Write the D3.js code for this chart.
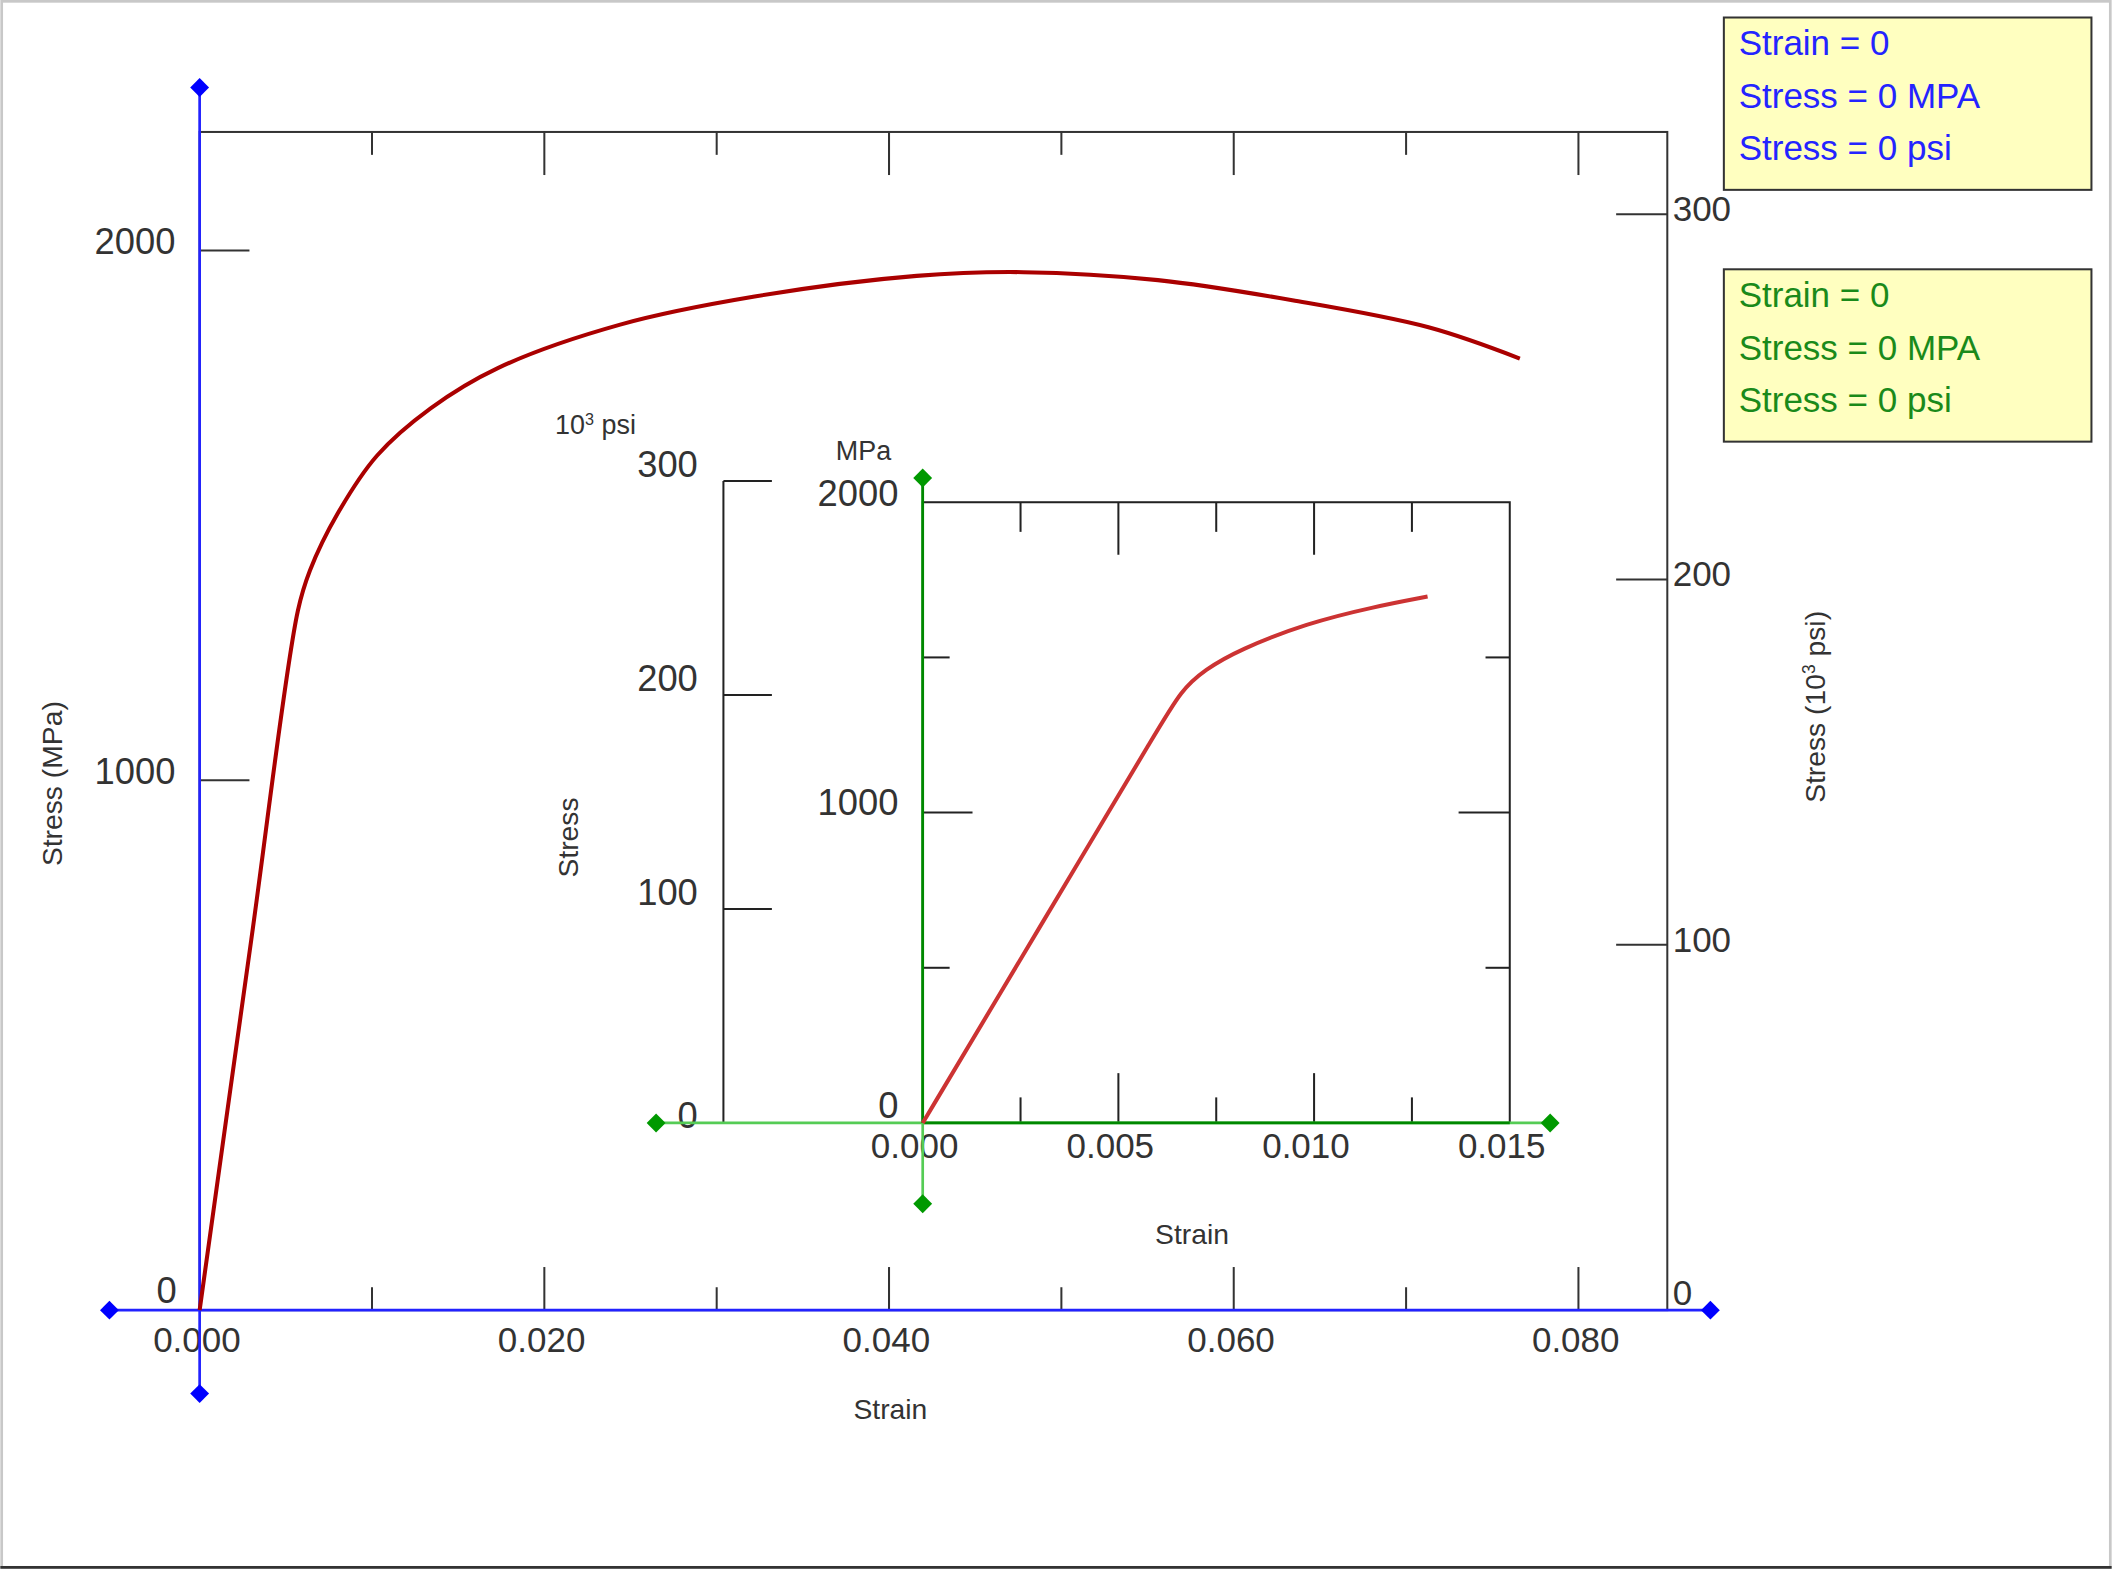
<!DOCTYPE html>
<html>
<head>
<meta charset="utf-8">
<script src="https://cdn.jsdelivr.net/npm/d3@7"></script>
<style>
  body { margin: 0; background: #fff; }
  text { font-family: "Liberation Sans", Arial, sans-serif; fill: #333; }
</style>
</head>
<body>
<svg id="chart"></svg>
<script>
// main curve: strain vs stress (MPa)
var mainStrain = [0, 0.0030, 0.0057, 0.0064, 0.0080, 0.0103, 0.0134, 0.0173, 0.0244, 0.0322, 0.0416, 0.0478, 0.0556, 0.0634, 0.0713, 0.0766];
var mainStress = [0, 700, 1320, 1396, 1503, 1613, 1702, 1778, 1860, 1913, 1952, 1959, 1944, 1906, 1855, 1796];
// inset curve (elastic region)
var insetStrain = [0, 0.00200, 0.00400, 0.00600, 0.00660, 0.00720, 0.00809, 0.00981, 0.01153, 0.0129];
var insetStress = [0, 422, 844, 1266, 1393, 1460, 1525, 1610, 1663, 1696];

var mainXTicks = [0.000, 0.020, 0.040, 0.060, 0.080];
var mainYTicks = [0, 1000, 2000];
var psiTicks = [0, 100, 200, 300];
var insetXTicks = [0.000, 0.005, 0.010, 0.015];
var insetYTicks = [0, 1000, 2000];
var readoutLines = ["Strain = 0", "Stress = 0 MPA", "Stress = 0 psi"];

var MPA_PER_KSI = 6.895;

var svg = d3.select("#chart")
    .attr("width", 2112)
    .attr("height", 1570)
    .attr("viewBox", "0 0 1568 1166");

svg.append("rect").attr("x", 1).attr("y", 1).attr("width", 1566).attr("height", 1163)
    .attr("fill", "#fff").attr("stroke", "#c8c8c8").attr("stroke-width", 2);
svg.append("line").attr("x1", 0).attr("x2", 1568).attr("y1", 1164).attr("y2", 1164)
    .attr("stroke", "#333").attr("stroke-width", 2);

function diamond(g, x, y, color) {
    var r = 7;
    g.append("path")
        .attr("d", "M0," + (-r) + "L" + r + ",0L0," + r + "L" + (-r) + ",0Z")
        .attr("transform", "translate(" + x + "," + y + ")")
        .attr("fill", color);
}

// ---------- main chart ----------
var x = d3.scaleLinear().domain([0, 0.08]).range([148, 1172]);
var y = d3.scaleLinear().domain([0, 2000]).range([973, 186]);
var yPsi = d3.scaleLinear().domain([0, 300]).range([y(0), y(300 * MPA_PER_KSI)]);
var boxL = 148, boxR = 1238, boxT = 98, boxB = 973;

var g = svg.append("g");
g.append("rect").attr("x", boxL).attr("y", boxT).attr("width", boxR - boxL).attr("height", boxB - boxT)
    .attr("fill", "none").attr("stroke", "#333").attr("stroke-width", 1.5);

var minorX = d3.range(1, 9).map(function (i) { return i * 0.01; });
minorX.forEach(function (v, i) {
    var major = (i % 2 == 1);
    g.append("line").attr("x1", x(v)).attr("x2", x(v)).attr("y1", boxT).attr("y2", boxT + (major ? 32 : 17))
        .attr("stroke", "#333").attr("stroke-width", 1.5);
    g.append("line").attr("x1", x(v)).attr("x2", x(v)).attr("y1", boxB).attr("y2", boxB - (major ? 32 : 17))
        .attr("stroke", "#333").attr("stroke-width", 1.5);
});
mainXTicks.forEach(function (v) {
    g.append("text").attr("x", x(v) - 2).attr("y", 1004).attr("text-anchor", "middle")
        .attr("font-size", 26).text(v.toFixed(3));
});
mainYTicks.forEach(function (v) {
    if (v > 0) {
        g.append("line").attr("x1", boxL).attr("x2", boxL + 37).attr("y1", y(v)).attr("y2", y(v))
            .attr("stroke", "#333").attr("stroke-width", 1.5);
    }
    g.append("text").attr("x", v == 0 ? 131 : 130).attr("y", y(v) + (v == 0 ? -5 : 3))
        .attr("text-anchor", "end").attr("font-size", 27).text(v);
});
psiTicks.forEach(function (v) {
    if (v > 0) {
        g.append("line").attr("x1", boxR - 38).attr("x2", boxR).attr("y1", yPsi(v)).attr("y2", yPsi(v))
            .attr("stroke", "#333").attr("stroke-width", 1.5);
    }
    g.append("text").attr("x", 1242).attr("y", yPsi(v) + (v == 0 ? -4 : 5))
        .attr("font-size", 26).text(v);
});

// blue axes
g.append("line").attr("x1", 81).attr("x2", 1270).attr("y1", boxB).attr("y2", boxB).attr("stroke", "#22f").attr("stroke-width", 2);
g.append("line").attr("x1", boxL).attr("x2", boxL).attr("y1", 65).attr("y2", 1035).attr("stroke", "#22f").attr("stroke-width", 2);
diamond(g, 81, boxB, "#00f"); diamond(g, 1270, boxB, "#00f");
diamond(g, boxL, 65, "#00f"); diamond(g, boxL, 1035, "#00f");

var line = d3.line().curve(d3.curveCatmullRom.alpha(0.5));
g.append("path")
    .attr("d", line(mainStrain.map(function (s, i) { return [x(s), y(mainStress[i])]; })))
    .attr("fill", "none").attr("stroke", "#a00").attr("stroke-width", 3);

g.append("text").attr("x", 661).attr("y", 1054).attr("text-anchor", "middle").attr("font-size", 21).attr("fill", "#111").text("Strain");
g.append("text").attr("transform", "translate(46,582) rotate(-90)").attr("text-anchor", "middle").attr("font-size", 21).text("Stress (MPa)");
g.append("text").attr("transform", "translate(1355,525) rotate(-90)").attr("text-anchor", "middle").attr("font-size", 21)
    .html("Stress (10<tspan baseline-shift='super' font-size='13'>3</tspan> psi)");

// ---------- inset ----------
var ix = d3.scaleLinear().domain([0, 0.015]).range([685, 1121]);
var iy = d3.scaleLinear().domain([0, 2000]).range([834, 373]);
var iyPsi = d3.scaleLinear().domain([0, 300]).range([iy(0), iy(300 * MPA_PER_KSI)]);
var iL = 685, iR = 1121, iT = 373, iB = 834;
var ig = svg.append("g");

ig.append("rect").attr("x", iL).attr("y", iT).attr("width", iR - iL).attr("height", iB - iT)
    .attr("fill", "none").attr("stroke", "#222").attr("stroke-width", 1.5);
[0.0025, 0.005, 0.0075, 0.010, 0.0125].forEach(function (v, i) {
    var major = (i % 2 == 1);
    ig.append("line").attr("x1", ix(v)).attr("x2", ix(v)).attr("y1", iT).attr("y2", iT + (major ? 39 : 22)).attr("stroke", "#222").attr("stroke-width", 1.5);
    ig.append("line").attr("x1", ix(v)).attr("x2", ix(v)).attr("y1", iB).attr("y2", iB - (major ? 37 : 19)).attr("stroke", "#222").attr("stroke-width", 1.5);
});
[500, 1000, 1500].forEach(function (v) {
    var major = (v == 1000);
    ig.append("line").attr("x1", iL).attr("x2", iL + (major ? 37 : 20)).attr("y1", iy(v)).attr("y2", iy(v)).attr("stroke", "#222").attr("stroke-width", 1.5);
    ig.append("line").attr("x1", iR).attr("x2", iR - (major ? 38 : 18)).attr("y1", iy(v)).attr("y2", iy(v)).attr("stroke", "#222").attr("stroke-width", 1.5);
});
insetXTicks.forEach(function (v) {
    ig.append("text").attr("x", ix(v) - 6).attr("y", 860).attr("text-anchor", "middle").attr("font-size", 26).text(v.toFixed(3));
});
insetYTicks.forEach(function (v) {
    ig.append("text").attr("x", 667).attr("y", iy(v) + (v == 0 ? -4 : v == 2000 ? 3 : 2))
        .attr("text-anchor", "end").attr("font-size", 27).text(v);
});
// psi axis
ig.append("line").attr("x1", 537).attr("x2", 537).attr("y1", iyPsi(300)).attr("y2", iB).attr("stroke", "#222").attr("stroke-width", 1.5);
psiTicks.forEach(function (v) {
    ig.append("line").attr("x1", 537).attr("x2", 573).attr("y1", iyPsi(v)).attr("y2", iyPsi(v)).attr("stroke", "#222").attr("stroke-width", 1.5);
    ig.append("text").attr("x", 518).attr("y", iyPsi(v) + (v == 0 ? 4 : -3))
        .attr("text-anchor", "end").attr("font-size", 27).text(v);
});
// green axes
ig.append("line").attr("x1", 487).attr("x2", 1151).attr("y1", iB).attr("y2", iB).attr("stroke", "#5c5").attr("stroke-width", 2);
ig.append("line").attr("x1", iL).attr("x2", iR).attr("y1", iB).attr("y2", iB).attr("stroke", "#080").attr("stroke-width", 2);
ig.append("line").attr("x1", iL).attr("x2", iL).attr("y1", 355).attr("y2", 894).attr("stroke", "#5c5").attr("stroke-width", 2);
ig.append("line").attr("x1", iL).attr("x2", iL).attr("y1", 355).attr("y2", iB).attr("stroke", "#080").attr("stroke-width", 2);
diamond(ig, 487, iB, "#090"); diamond(ig, 1151, iB, "#090");
diamond(ig, iL, 355, "#090"); diamond(ig, iL, 894, "#090");

var insetPts = insetStrain.map(function (s, i) { return [ix(s), iy(insetStress[i])]; });
// keep the end point exact for basis curve
insetPts.push(insetPts[insetPts.length - 1]);
ig.append("path")
    .attr("d", d3.line().curve(d3.curveBasis)(insetPts))
    .attr("fill", "none").attr("stroke", "#c33").attr("stroke-width", 3);

ig.append("text").attr("x", 885).attr("y", 924).attr("text-anchor", "middle").attr("font-size", 21).text("Strain");
ig.append("text").attr("transform", "translate(429,622) rotate(-90)").attr("text-anchor", "middle").attr("font-size", 21).text("Stress");
ig.append("text").attr("x", 412).attr("y", 322).attr("font-size", 20).attr("fill", "#111")
    .html("10<tspan baseline-shift='super' font-size='12'>3</tspan> psi");
ig.append("text").attr("x", 641).attr("y", 342).attr("text-anchor", "middle").attr("font-size", 20).attr("fill", "#111").text("MPa");

// ---------- readout boxes ----------
function readout(top, color) {
    var b = svg.append("g");
    b.append("rect").attr("x", 1280).attr("y", top).attr("width", 273).attr("height", 128)
        .attr("fill", "#ffffc0").attr("stroke", "#333").attr("stroke-width", 1.5);
    readoutLines.forEach(function (t, i) {
        b.append("text").attr("x", 1291).attr("y", top + 28 + i * 39).attr("font-size", 26)
            .style("fill", color).text(t);
    });
}
readout(13, "#2424ff");
readout(200, "#1a8a1a");
</script>
</body>
</html>
